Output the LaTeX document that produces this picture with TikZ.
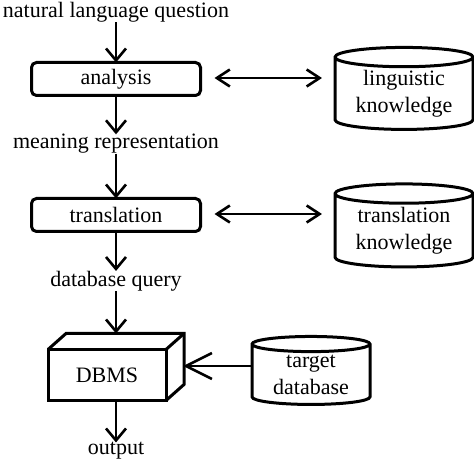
\documentclass[tikz,border=0pt]{standalone}
\usepackage{fontspec}
\setmainfont{Liberation Serif}
\usetikzlibrary{positioning,shapes.geometric,arrows.meta}

\begin{document}
\begin{tikzpicture}
[x=1pt,y=-1pt,
 every node/.style={inner sep=0pt,outer sep=0pt,font=\fontsize{22}{27}\selectfont,align=center},
 txt/.style={},
 proc/.style={draw,line width=3pt,rounded corners=5pt,minimum width=169pt,minimum height=33pt},
 dbbox/.style={draw,line width=3pt,minimum width=118pt,minimum height=51pt},
 store/.style={draw,line width=3pt,cylinder,shape border rotate=90,aspect=0.2},
 arr/.style={line width=2.6pt,-{Straight Barb[length=12pt,width=20pt]}},
 bigarr/.style={line width=2.6pt,-{Straight Barb[length=26pt,width=26pt]}},
 both/.style={line width=2.6pt,{Straight Barb[length=13pt,width=17pt]}-{Straight Barb[length=13pt,width=17pt]}}]
\useasboundingbox (0,0) rectangle (474,462);
% main column
\node[txt]   (nlq)  at (116,12)                                 {natural language question};
\node[proc]  (ana)  [on grid,below=67pt of nlq]                 {analysis};
\node[txt]   (mr)   [on grid,below=65pt of ana]                 {meaning representation};
\node[proc]  (tra)  [on grid,below=71pt of mr]                  {translation};
\node[txt]   (dbq)  [on grid,below=66pt of tra]                 {database query};
\node[dbbox] (dbms) [on grid,below left=94pt and 9pt of dbq]    {DBMS};
\node[txt]   (out)  [on grid,below right=76pt and 9pt of dbms]  {output};
% knowledge stores
\node[store,minimum width=138pt,minimum height=82pt] (lk)  [on grid,below right=15pt and 288pt of ana]  {linguistic\\knowledge};
\node[store,minimum width=138pt,minimum height=83pt] (tk)  [on grid,below=137pt of lk]                  {translation\\knowledge};
\node[store,minimum width=118pt,minimum height=68pt] (tdb) [on grid,right=204pt of dbms]                {target\\database};
% box depth
\draw[line width=3pt,line join=miter] (dbms.north west) -- ++(18,-16) coordinate (bnw)
  -- ++(118,0) coordinate (bne) -- ++(0,51) coordinate (bse) -- (dbms.south east);
\draw[line width=3pt] (dbms.north east) -- (bne);
\coordinate (dbin) at (183,366);
% flow
\draw[arr] (nlq) -- (ana);
\draw[arr] (ana) -- (mr);
\draw[arr] (mr) -- (tra);
\draw[arr] (tra) -- (dbq);
\draw[arr] (dbq) -- (dbq |- bnw);
\draw[arr] (out |- dbms.south) -- (out);
\draw[bigarr] (tdb.west |- dbin) -- (dbin);
\draw[both,shorten <=14pt,shorten >=13pt] ([yshift=1pt]ana.east) -- ([yshift=1pt]ana.east -| lk.west);
\draw[both,shorten <=14pt,shorten >=13pt] ([yshift=1pt]tra.east) -- ([yshift=1pt]tra.east -| tk.west);
\end{tikzpicture}
\end{document}
